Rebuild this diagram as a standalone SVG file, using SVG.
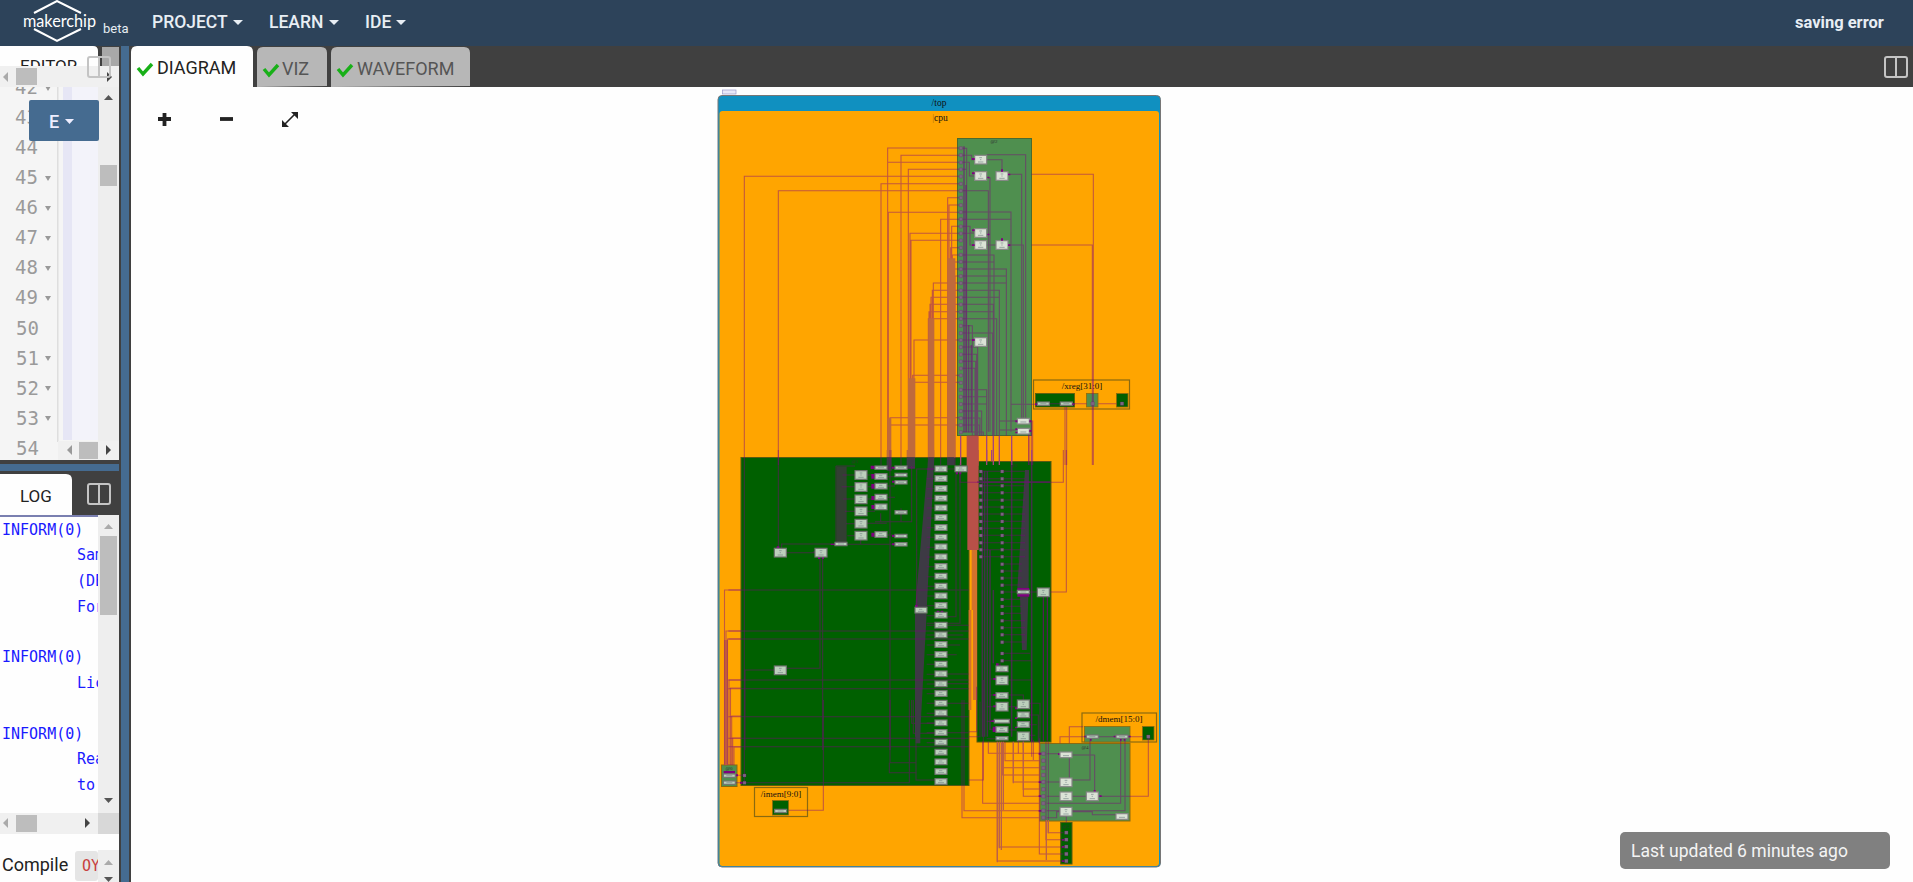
<svg xmlns="http://www.w3.org/2000/svg" width="1913" height="882" viewBox="0 0 1913 882">
<style>
text{font-family:Roboto,"Liberation Sans",sans-serif}
.ln{font-family:"DejaVu Sans Mono",monospace;font-size:19px;fill:#9a9a9a}
.log{font-family:"DejaVu Sans Mono",monospace;font-size:15px;fill:#1a1aff}
.nav{font-size:17.5px;font-weight:500;fill:#e8eef4}
.lab{font-family:"Liberation Serif",serif;font-size:9px;fill:#111;text-anchor:middle}
.tiny{font-family:"Liberation Serif",serif;font-size:5px;fill:#333;text-anchor:middle}
.w{fill:none;stroke:#800080;stroke-opacity:.48;stroke-width:3.2}
.wa{fill:none;stroke:#800080;stroke-opacity:.45;stroke-width:1.1}
.wt{fill:none;stroke:#70107a;stroke-opacity:.6;stroke-width:4.5}
.wr{fill:none;stroke:#a5457a;stroke-width:4}
.ws{fill:none;stroke:#bb6048;stroke-width:4}
.sc{fill:#f0f0f0}.th{fill:#bdbdbd}
.pt{fill:#7a6a80;stroke:#800080;stroke-opacity:.5;stroke-width:1.5}
.cl{fill:#bccfbc;stroke:#727272;stroke-width:3.5}
.cw{fill:#dbe3d6;stroke:#868686;stroke-width:3.5}
.mark{fill:none;stroke:#788;stroke-width:2}
.tip{fill:#800080}
.band{fill:#bf6a3c}
.split{fill:none;stroke:#c4c4c4;stroke-width:2}
</style>
<defs>
<g id="big"><rect class="cl" x="0" y="0" width="36" height="26"/><path class="mark" d="M14 7h8M16 13h4M10 20h16"/></g>
<g id="mid"><rect class="cl" x="0" y="0" width="36" height="17"/><path class="mark" d="M12 6h10M9 12h18"/></g>
<g id="thin"><rect class="cl" x="0" y="0" width="36" height="10"/><path class="mark" d="M9 5h18"/></g>
<g id="bigw"><rect class="cw" x="0" y="0" width="36" height="26"/><path class="mark" d="M14 7h8M16 13h4M10 20h16"/></g>
<g id="midw"><rect class="cw" x="0" y="0" width="36" height="17"/><path class="mark" d="M9 11h18"/></g>
<clipPath id="edClip"><rect x="0" y="87" width="57" height="373"/></clipPath>
<clipPath id="logClip"><rect x="0" y="516" width="98" height="296"/></clipPath>
<clipPath id="codeClip"><rect x="75" y="851" width="23" height="30"/></clipPath>
<clipPath id="editClip"><rect x="0" y="46" width="98" height="21"/></clipPath>
</defs>

<rect width="1913" height="882" fill="#fefefe"/>

<g id="chrome">
<rect width="1913" height="46" fill="#2d435a"/>
<rect y="46" width="1913" height="41" fill="#404040"/>
<g id="logo">
<path d="M34 13 57 1 81 13M34 29 57 41 81 29" fill="none" stroke="#fff" stroke-width="2"/>
<text x="23" y="27" font-size="17" fill="#fff" style="font-family:Lato,sans-serif" textLength="73" lengthAdjust="spacingAndGlyphs">makerchip</text>
<text x="103" y="33" font-size="13" fill="#e8eef4">beta</text>
</g>
<text class="nav" x="152" y="28">PROJECT</text><path d="M233 20h10l-5 5z" fill="#e8eef4"/>
<text class="nav" x="269" y="28">LEARN</text><path d="M329 20h10l-5 5z" fill="#e8eef4"/>
<text class="nav" x="365" y="28">IDE</text><path d="M396 20h10l-5 5z" fill="#e8eef4"/>
<text x="1795" y="28" font-size="16.500" font-weight="700" fill="#e8eef4">saving error</text>
<path d="M131 87V52q0-6 6-6h110q6 0 6 6v35z" fill="#fefefe"/>
<path d="M257 87V53q0-6 6-6h58q6 0 6 6v33z" fill="#b7b7b7"/>
<path d="M331 87V53q0-6 6-6h127q6 0 6 6v33z" fill="#b7b7b7"/>
<path d="M138 68l5 6 9-10" fill="none" stroke="#18b018" stroke-width="3.400"/>
<path d="M264 69l5 6 9-10" fill="none" stroke="#18b018" stroke-width="3.400"/>
<path d="M338 69l5 6 9-10" fill="none" stroke="#18b018" stroke-width="3.400"/>
<text x="157" y="74" font-size="18" fill="#222">DIAGRAM</text>
<text x="282" y="75" font-size="18" fill="#555">VIZ</text>
<text x="357" y="75" font-size="18" fill="#555">WAVEFORM</text>
<rect class="split" x="1885" y="57" width="22" height="20" rx="2"/><path class="split" d="M1896 57v20"/>
<path d="M158 119h13M164.500 113v13" stroke="#222" stroke-width="3.800" fill="none"/>
<path d="M220 119h13" stroke="#222" stroke-width="3.800" fill="none"/>
<path d="M285 124l10-10" stroke="#222" stroke-width="1.600" fill="none"/><path d="M291 112h7v7zM282 120v7h7z" fill="#222"/>
</g>

<g id="editor-pane">
<rect x="0" y="87" width="119" height="373" fill="#f5f5f5"/>
<rect x="57" y="87" width="1.500" height="355" fill="#dedede"/>
<rect x="63" y="87" width="35" height="353" fill="#f3f3fa"/>
<rect x="63" y="87" width="9" height="353" fill="#e6e6f5"/>
<rect x="98" y="87" width="21" height="355" fill="#eeeeee"/>
<g clip-path="url(#edClip)">
<text class="ln" x="15" y="94">42</text><text class="ln" x="15" y="124">43</text><text class="ln" x="15" y="154">44</text><text class="ln" x="15" y="184">45</text><text class="ln" x="15" y="214">46</text><text class="ln" x="15" y="244">47</text><text class="ln" x="15" y="274">48</text><text class="ln" x="15" y="304">49</text><text class="ln" x="16" y="335">50</text><text class="ln" x="16" y="365">51</text><text class="ln" x="16" y="395">52</text><text class="ln" x="16" y="425">53</text><text class="ln" x="16" y="455">54</text>
</g>
<path d="M45 176h6l-3 5zM45 206h6l-3 5zM45 236h6l-3 5zM45 266h6l-3 5zM45 296h6l-3 5zM45 356h6l-3 5zM45 386h6l-3 5zM45 416h6l-3 5zM45 86h6l-3 5z" fill="#999"/>
<rect x="100" y="165" width="17" height="21" class="th"/>
<path d="M104 100h9l-4.500-5z" fill="#555"/>
<rect x="58" y="441" width="61" height="19" fill="#f0f0f0"/>
<rect x="79" y="442" width="19" height="17" class="th"/>
<path d="M72 445v10l-5-5z" fill="#999"/><path d="M106 445v10l5-5z" fill="#444"/>
<path d="M0 46h93q5 0 5 5v16H0z" fill="#fefefe"/><rect x="102" y="47" width="17" height="19" fill="#a8a8a8"/>
<text x="20" y="72" font-size="17" fill="#222" clip-path="url(#editClip)">EDITOR</text>
<rect y="66" width="119" height="21" fill="#f0f0f0"/>
<rect x="16" y="68" width="21" height="17" class="th"/>
<path d="M8 72v10l-5-5z" fill="#aaa"/><path d="M107 72v10l5-5z" fill="#444"/>
<rect class="split" x="88" y="57" width="22" height="20" rx="2"/><path class="split" d="M99 57v20"/>
<rect x="29" y="100" width="70" height="41" rx="2" fill="#456b90"/>
<text x="49" y="128" font-size="18" font-weight="500" fill="#eef">E</text><path d="M65 119h9l-4.500 5z" fill="#eef"/>
</g>

<g id="log-pane">
<rect x="119" y="46" width="2" height="836" fill="#404040"/>
<rect x="121" y="46" width="8" height="836" fill="#456b90"/>
<rect x="129" y="87" width="2" height="795" fill="#404040"/>
<rect y="460" width="119" height="4" fill="#404040"/>
<rect y="464" width="119" height="7" fill="#456b90"/>
<rect y="471" width="119" height="44" fill="#404040"/>
<path d="M0 474h66q6 0 6 6v35H0z" fill="#fefefe"/>
<text x="20" y="502" font-size="17" fill="#222">LOG</text>
<rect class="split" x="88" y="484" width="22" height="20" rx="2"/><path class="split" d="M99 484v20"/>
<rect y="515" width="119" height="367" fill="#fefefe"/>
<rect y="515" width="98" height="2" fill="#7a7fb0"/>
<g clip-path="url(#logClip)">
<text class="log" x="2" y="535">INFORM(0)</text><text class="log" x="77" y="560">Sam</text><text class="log" x="77" y="586">(DE</text><text class="log" x="77" y="612">For</text>
<text class="log" x="2" y="662">INFORM(0)</text><text class="log" x="77" y="688">Lic</text>
<text class="log" x="2" y="739">INFORM(0)</text><text class="log" x="77" y="764">Rea</text><text class="log" x="77" y="790">to</text>
</g>
<rect x="98" y="515" width="21" height="298" fill="#eeeeee"/>
<rect x="100" y="536" width="17" height="79" class="th"/>
<path d="M104 529h9l-4.500-5z" fill="#aaa"/><path d="M104 798h9l-4.500 5z" fill="#555"/>
<rect y="813" width="98" height="21" fill="#f0f0f0"/>
<rect x="16" y="815" width="21" height="17" class="th"/>
<rect x="98" y="813" width="21" height="21" fill="#d8d8d8"/>
<path d="M8 818v10l-5-5z" fill="#aaa"/><path d="M85 818v10l5-5z" fill="#444"/>
<text x="2" y="871" font-size="18" fill="#222">Compile</text>
<rect x="75" y="851" width="23" height="30" rx="3" fill="#e5e5e5"/>
<text x="82" y="871" font-size="15" fill="#c84040" style="font-family:'DejaVu Sans Mono',monospace" clip-path="url(#codeClip)">OY</text>
<rect x="98" y="850" width="21" height="32" fill="#eeeeee"/>
<path d="M104 865h9l-4.500-5z" fill="#aaa"/><path d="M104 877h9l-4.500 5z" fill="#555"/>
</g>

<g id="toast"><rect x="1620" y="832" width="270" height="37" rx="5" fill="#808080"/>
<text x="1631" y="857" font-size="17.500" fill="#f4f4f4">Last updated 6 minutes ago</text></g>

<rect x="722.500" y="90" width="13.500" height="4" fill="#e8e8f8" stroke="#9a9acc" stroke-width=".7"/>

<g id="top"><rect x="718" y="95.500" width="442.500" height="771.500" rx="4" fill="#1090c0" stroke="#777" stroke-width="1"/><text class="lab" x="939" y="106" style="font-size:9.500px">/top</text></g>
<g id="cpu"><rect x="719.500" y="111" width="439.500" height="755" rx="3" fill="#ffa500"/><text class="lab" x="940" y="121" style="font-size:9.500px"><tspan fill="#b07010">|</tspan>cpu</text></g>

<g id="block-alignment"><rect x="957.500" y="138.500" width="74" height="297" fill="#4f8f4f" stroke="#4a6a30" stroke-width="1"/><text class="tiny" x="994" y="143">@2</text></g>
<g id="block-decode"><rect x="741" y="457.500" width="228" height="328" fill="#006000" stroke="#5a5a10" stroke-width="1"/><text class="tiny" x="855" y="463">@1</text></g>
<g id="block-execute"><rect x="977" y="461.500" width="74" height="280.500" fill="#006000" stroke="#5a5a10" stroke-width="1"/><text class="tiny" x="1014" y="467">@1</text></g>
<g id="block-memory"><rect x="1040" y="743.500" width="90" height="77.500" fill="#4f8f4f" stroke="#8a6a10" stroke-width="1"/><text class="tiny" x="1085" y="749">@4</text></g>
<g id="block-regs"><rect x="1060.700" y="822.500" width="11.300" height="41.500" fill="#006000" stroke="#5a5a10" stroke-width="1"/><text class="tiny" x="1066" y="828">@3</text></g>
<g id="block-pc"><rect x="721.500" y="765" width="15.500" height="21.500" fill="#4f8f4f" stroke="#8a6a10" stroke-width="1"/><text class="tiny" x="729" y="770">@0</text></g>
<g id="xreg"><rect x="1033.500" y="380" width="96" height="29" fill="#ffa500" stroke="#8a6a10" stroke-width="1.200"/><text class="lab" x="1082" y="388.500">/xreg[31:0]</text>
<rect x="1035.500" y="393.500" width="39" height="13.500" fill="#006000" stroke="#5a5a10" stroke-width=".8"/><rect x="1086.500" y="393.500" width="11.500" height="13.500" fill="#4f8f4f" stroke="#8a6a10" stroke-width=".8"/><rect x="1116.500" y="393.500" width="11.500" height="13.500" fill="#006000" stroke="#8a6a10" stroke-width=".8"/></g>
<g id="dmem"><rect x="1082" y="713" width="74.500" height="29" fill="#ffa500" stroke="#8a6a10" stroke-width="1.200"/><text class="lab" x="1119" y="721.500">/dmem[15:0]</text>
<rect x="1084.500" y="726.500" width="45.500" height="15.500" fill="#4f8f4f" stroke="#8a6a10" stroke-width=".8"/><rect x="1142.500" y="726.500" width="11.500" height="13.500" fill="#006000" stroke="#8a6a10" stroke-width=".8"/></g>
<g id="imem"><rect x="754.500" y="787.500" width="53" height="29" fill="#ffa500" stroke="#8a6a10" stroke-width="1.200"/><text class="lab" x="781" y="796.500">/imem[9:0]</text>
<rect x="772.500" y="800.500" width="16" height="14.500" fill="#006000" stroke="#8a6a10" stroke-width=".8"/></g>

<g id="connectors">
<g transform="translate(710,85) scale(.33333)">
<path class="w" d="M747 189H533V1140M747 211H573V1140M747 232H533V1140M747 253H595V1140M747 274H103V2090M747 296H513V1140M747 317H205V1140M747 338H713V1140M747 360H717V1140M747 382H535V1140M747 403H692V1140M747 424H725V1140M747 445H600V1140M747 466H603V1140M747 488H722V1140M747 510H727V1140M747 531H730V1140M747 552H733V1140M747 573H735V1140M747 594H670V1140M747 616H667V1140M747 637H663V1140M747 658H660V1140M747 680H657V1140M747 701H655V1140M747 765H612V1140M747 871H608V1140M747 892H605V1140M747 998H540V1140M747 1020H537V1140"/>
<path class="band" d="M655 700h18v417h-18zM712 520h24v597h-24zM594 880h22v237h-22zM532 1000h12v117h-12z"/>
<path class="w" d="M964 268H1150V1140M964 480H1147V1140M964 1010V1140M957 1040V1140M1065 966V1140M1070 966V1140"/>
<path class="w" d="M830 224H876V258M830 209H947V1000M757 190H770V1040M757 211H785V224H794M757 232H778V273H794M757 253H770V278M834 278H840V1040M894 268H935V1000M757 317H835V1040M757 381H903V1040M757 403H903V1040M757 424H780V444H794M835 448H840V1040M757 445H780V480H794M894 480H940V1000M830 480H858M757 510H852V1052M757 531H852V1052M757 552H889V1052M757 573H889V1052M757 594H889V1052M757 616H868V1052M757 637H868V1052M757 658H850V1052M757 680H850V1052M757 701H860V1052M757 722H787V1052M757 744H848V1052M757 765H794M757 786H803V1052M757 808H800V1052M757 829H797V1052M757 850H795V1052M757 914H830V1052M757 935H830V1052M757 957H830V1052M757 978H815V1052M757 999H810V1052M757 1020H808V1052M757 1041H820V1052M868 1008H922M868 1035H922V1040M903 958H976M958 1008H968V1140M958 1038H956V1140"/>
<path d="M770 1052h36v90h-36z" fill="#b85048"/>
<path class="wr" d="M830 1052V1140M850 1052V1140M868 1052V1140M905 1052V1140M752 1052V1140"/>
<path d="M762 184V1042M768 300V1042M776 720V1042M784 780V1042" class="wt"/>
<path class="w" d="M1092 956H1130M1165 956H1219M1018 956H1051"/>
</g>
<g transform="translate(730,450) scale(.33333)">
<path d="M470 0h15v22h-15zM530 0h25v22h-25zM595 0h18v22h-18zM652 0h20v22h-20z" class="band"/>
<path d="M712 0h34v300h-34z" fill="#b85048"/>
<path class="wr" d="M845 0V34M905 0V34M770 0V34M785 0V34"/>
<path d="M470 22h15v40h-15zM530 22h25v34h-25zM595 22h18L590 480H555zM652 22h20v24h-20z" fill="#3d3a44"/>
<path d="M555 490h35L570 860H555z" fill="#3d3a44"/>
<path d="M320 50h30v230h-30z" fill="#333f33"/>
<path d="M885 60h12L896 415H862zM870 440h25L890 600H876z" fill="#3d3a44"/>
<path d="M725 300h16v180h-16zM729 480h12v270h-12zM716 480h8v300h-8z" fill="#d2722c"/>
<path class="w" d="M-5 420H716M-5 543H716M-5 567H716M-5 690H716M-5 716H716M-5 800H716M-5 865H716M-5 890H716M145 0V295M480 0V900M318 48V283M318 48H375M375 75H338M375 110H335M375 147H340M375 184H345M375 221H348M375 257H352M411 75H435M411 110H435M411 147H435M411 184H435M411 220H470M392 270V283M351 283H495M291 305H250M170 308H255M270 320V655H170M278 320V900M133 660H45V900M153 282H315M155 295V282M471 53H495M471 80H495M471 108H495M471 142H495M435 215H545V48M531 53H555M470 255H495M452 190V215H495M513 175V215M612 57H560V470M678 66V500H640M690 66V520H590M650 57H675"/>
<path class="w" d="M590 57h25M590 86h25M590 116h25M590 145h25M590 174h25M590 204h25M590 233h25M590 262h25M590 292h25M590 321h25M590 350h25M590 380h25M590 409h25M590 438h25M590 467h25M590 497h25M590 526h25M590 555h25M590 585h25M590 614h25M590 643h25M590 673h25M590 702h25M590 731h25M590 760h25M590 790h25M590 819h25M590 848h25M590 878h25"/>
<path class="w" d="M651 526H716M651 555H700M651 585H690M651 614H680M651 672H716M651 701H716M651 760H716M651 848H716"/>
<path class="tip" d="M422 47h12v10h-12zM424 72h10v14h-10zM424 102h10v14h-10zM424 138h10v12h-10zM424 165h10v12h-10zM424 248h10v12h-10zM486 50h8v6h-8zM486 92h8v6h-8zM486 255h8v6h-8zM486 280h8v6h-8zM302 281h13v4h-13zM140 289h8v6h-8zM264 321h6v6h-6zM276 321h6v6h-6zM555 465h8v7h-8zM620 482h8v6h-8zM632 482h8v6h-8zM678 67h6v6h-6zM688 67h6v6h-6z"/>
<path class="w" d="M757 64H810M757 86H810M757 107H810M757 128H810M757 150H810M757 171H810M757 192H810M757 214H810M757 235H810M757 256H810M757 278H810M757 299H810M757 320H810M820 64H885M820 86H885M820 107H885M820 128H885M820 150H885M820 171H885M820 192H885M820 214H885M820 235H885M820 256H885M820 278H885M820 299H885M820 320H885M820 342H875M820 363H875M820 384H875M820 405H870M820 426H862M820 448H875M820 469H875M820 490H875M820 512H885M820 533H885M820 554H885M820 576H885M820 610H900M820 632H905M898 426H922M940 440V875M952 440V875"/>
<path class="wt" d="M757 64V860M764 64V860M772 64V860M780 300V840M790 420V640M845 36V860M905 36V875M960 96H741"/>
<path class="w" d="M810 640V655M798 687H780M798 735H780M798 770H770M834 690H905V875M834 735H880V750M834 770H860M834 840H860M898 760H930V875M898 795H925V875M898 824H920M793 814H770M798 838H780M798 866H770M880 872V900M898 856H916"/>
<path class="tip" d="M862 414h36v7h-36zM862 432h36v8h-36zM798 640h8v8h-8zM790 684h8v6h-8zM790 732h8v6h-8zM790 766h8v6h-8zM788 830h10v16h-10zM784 811h8v5h-8zM855 772h7v6h-7zM855 802h7v5h-7zM855 830h7v5h-7z"/>
</g>
<g transform="translate(950,450) scale(.33333)">
<path class="w" d="M30 40V97H340V0M299 426H349V0M280 440V870M292 440V870"/>
</g>
<g transform="translate(960,700) scale(.33333)">
<path class="w" d="M240 160H85V125M240 182H135V125M240 203H130V125M240 225H128V125M240 246H160V125M240 267H190V125M240 289H190V125M240 310H68V125M240 332H12V0M240 353H6V0M310 398H265V125M310 419H258V125M310 441H118V125M310 462H238V125M310 483H112V125"/>
<path class="ws" d="M112 125V487M118 125V445M124 125V450M130 125V330M259 360V480M265 360V400M190 125V270M160 125V250"/>
</g>
<g transform="translate(950,680) scale(.33333)">
<path class="w" d="M56 155H80V20M56 170H90V65M56 300H100V0M250 180V240M268 175V190M205 175V220M245 175V230M330 190V170H409M358 190V140H400M420 170V300H367M445 170H498M534 170H578M595 170V349H448M367 349H409M434 224V336M367 225H434M358 294V234M512 175V370H290M525 175V392H290M367 395H427V404H498M349 427V408H330V382M290 221H330M290 306H330M290 349H330M290 392H330M290 413H320V395H330"/>
<path class="tip" d="M266 218h8v6h-8zM266 304h8v5h-8zM266 346h8v5h-8zM266 390h8v5h-8zM324 220h6v5h-6zM403 167h6v5h-6zM491 167h7v5h-7zM534 167h8v5h-8zM420 176h5v6h-5zM510 176h5v6h-5zM521 176h5v6h-5zM448 346h7v5h-7zM431 330h6v6h-6zM336 477h7v5h-7zM336 498h7v5h-7zM336 541h7v5h-7z"/>
</g>
<g transform="translate(710,700) scale(.33333)">
<path class="w" d="M340 0V331H236M76 226H100M76 248H100M108 248H598V0M108 226H93M540 0V188H618M538 188V218H620M605 0V70H674M610 0V100H674M618 0V240H674"/>
<path d="M617 0h14v130h-14z" fill="#3d3a44"/>
<path d="M41 213h34v7H41z" class="tip"/><path d="M76 223h8v6h-8zM90 245h8v6h-8z" class="tip"/>
</g>
<path class="band" d="M724 640h4v125h-4z" style="fill:#d97a25"/>
<path class="wa" d="M741 590H724.500V765M741 631H726V765M741 639H727.500V765M741 680H729V765M741 688H730.500V765M741 716H731.700V765M741 738H732.700V765M741 747H734V765"/>
</g>

<g id="nodes-upper" transform="translate(710,85) scale(.33333)">
<path class="pt" d="M748 185h9v9h-9zM748 206h9v9h-9zM748 228h9v9h-9zM748 249h9v9h-9zM748 270h9v9h-9zM748 292h9v9h-9zM748 313h9v9h-9zM748 334h9v9h-9zM748 356h9v9h-9zM748 377h9v9h-9zM748 398h9v9h-9zM748 420h9v9h-9zM748 441h9v9h-9zM748 462h9v9h-9zM748 484h9v9h-9zM748 505h9v9h-9zM748 526h9v9h-9zM748 548h9v9h-9zM748 569h9v9h-9zM748 590h9v9h-9zM748 612h9v9h-9zM748 633h9v9h-9zM748 654h9v9h-9zM748 676h9v9h-9zM748 697h9v9h-9zM748 718h9v9h-9zM748 740h9v9h-9zM748 761h9v9h-9zM748 782h9v9h-9zM748 804h9v9h-9zM748 825h9v9h-9zM748 846h9v9h-9zM748 867h9v9h-9zM748 889h9v9h-9zM748 910h9v9h-9zM748 931h9v9h-9zM748 953h9v9h-9zM748 974h9v9h-9zM748 995h9v9h-9zM748 1016h9v9h-9zM748 1037h9v9h-9z"/>
<use href="#bigw" x="794" y="211"/><use href="#bigw" x="794" y="260"/><use href="#bigw" x="858" y="260"/><use href="#bigw" x="794" y="431"/><use href="#bigw" x="794" y="467"/><use href="#bigw" x="858" y="467"/><use href="#bigw" x="794" y="758"/><use href="#midw" x="922" y="1000"/><use href="#midw" x="922" y="1030"/>
<use href="#thin" x="982" y="951"/><use href="#thin" x="1051" y="951"/>
<path class="pt" d="M1143 951h10v10h-10zM1231 951h10v10h-10z"/>
<path class="tip" d="M786 219h8v6h-8zM786 262h8v6h-8zM832 275h6v5h-6zM873 253h6v7h-6zM894 266h7v5h-7zM786 433h8v6h-8zM832 446h6v5h-6zM786 478h8v5h-8zM873 460h6v7h-6zM894 478h7v5h-7zM786 762h8v6h-8zM916 1006h6v6h-6zM958 1006h6v6h-6zM916 1030h6v5h-6zM916 1040h6v5h-6zM958 1035h6v6h-6zM975 955h6v6h-6zM1087 955h6v6h-6z"/>
</g>

<g id="nodes-left" transform="translate(730,450) scale(.33333)">
<use href="#big" x="375" y="62"/><use href="#big" x="375" y="98"/><use href="#big" x="375" y="135"/><use href="#big" x="375" y="171"/><use href="#big" x="375" y="208"/><use href="#big" x="375" y="244"/>
<use href="#thin" x="435" y="48"/><use href="#mid" x="435" y="71"/><use href="#mid" x="435" y="100"/><use href="#mid" x="435" y="133"/><use href="#mid" x="435" y="162"/><use href="#mid" x="435" y="245"/>
<use href="#thin" x="495" y="48"/><use href="#thin" x="495" y="70"/><use href="#thin" x="495" y="92"/><use href="#thin" x="495" y="182"/><use href="#thin" x="495" y="253"/><use href="#thin" x="495" y="278"/><use href="#thin" x="315" y="277"/>
<use href="#big" x="133" y="295"/><use href="#big" x="255" y="295"/><use href="#big" x="133" y="648"/>
<use href="#mid" x="555" y="472"/><use href="#mid" x="675" y="48"/>
<use href="#mid" x="615" y="48"/><use href="#mid" x="615" y="77"/><use href="#mid" x="615" y="107"/><use href="#mid" x="615" y="136"/><use href="#mid" x="615" y="165"/><use href="#mid" x="615" y="194"/><use href="#mid" x="615" y="224"/><use href="#mid" x="615" y="253"/><use href="#mid" x="615" y="282"/><use href="#mid" x="615" y="312"/><use href="#mid" x="615" y="341"/><use href="#mid" x="615" y="370"/><use href="#mid" x="615" y="400"/><use href="#mid" x="615" y="429"/><use href="#mid" x="615" y="458"/><use href="#mid" x="615" y="487"/><use href="#mid" x="615" y="517"/><use href="#mid" x="615" y="546"/><use href="#mid" x="615" y="575"/><use href="#mid" x="615" y="605"/><use href="#mid" x="615" y="634"/><use href="#mid" x="615" y="663"/><use href="#mid" x="615" y="693"/><use href="#mid" x="615" y="722"/><use href="#mid" x="615" y="751"/><use href="#mid" x="615" y="780"/><use href="#mid" x="615" y="810"/><use href="#mid" x="615" y="839"/><use href="#mid" x="615" y="868"/><use href="#mid" x="615" y="898"/><use href="#mid" x="615" y="927"/><use href="#mid" x="615" y="956"/><use href="#mid" x="615" y="986"/>
</g>

<g id="nodes-right" transform="translate(730,450) scale(.33333)">
<path class="pt" d="M748 60h9v9h-9zM748 82h9v9h-9zM748 103h9v9h-9zM748 124h9v9h-9zM748 146h9v9h-9zM748 167h9v9h-9zM748 188h9v9h-9zM748 210h9v9h-9zM748 231h9v9h-9zM748 252h9v9h-9zM748 274h9v9h-9zM748 295h9v9h-9zM748 316h9v9h-9zM812 60h9v9h-9zM812 82h9v9h-9zM812 103h9v9h-9zM812 124h9v9h-9zM812 146h9v9h-9zM812 167h9v9h-9zM812 188h9v9h-9zM812 210h9v9h-9zM812 231h9v9h-9zM812 252h9v9h-9zM812 274h9v9h-9zM812 295h9v9h-9zM812 316h9v9h-9zM812 338h9v9h-9zM812 359h9v9h-9zM812 380h9v9h-9zM812 401h9v9h-9zM812 422h9v9h-9zM812 444h9v9h-9zM812 465h9v9h-9zM812 486h9v9h-9zM812 508h9v9h-9zM812 529h9v9h-9zM812 550h9v9h-9zM812 572h9v9h-9zM812 606h9v9h-9zM812 628h9v9h-9z"/>
<use href="#mid" x="798" y="648"/><use href="#big" x="798" y="678"/><use href="#mid" x="798" y="728"/><use href="#big" x="798" y="757"/><rect class="cl" x="793" y="808" width="45" height="11"/><use href="#mid" x="798" y="830"/><use href="#thin" x="798" y="860"/>
<use href="#big" x="862" y="750"/><use href="#mid" x="862" y="786"/><use href="#mid" x="862" y="815"/><use href="#big" x="862" y="846"/>
<use href="#thin" x="862" y="421"/><use href="#big" x="922" y="414"/>
</g>

<g id="nodes-lower" transform="translate(950,680) scale(.33333)">
<path class="pt" d="M275 216h10v10h-10zM275 237h10v10h-10zM275 259h10v10h-10zM275 280h10v10h-10zM275 301h10v10h-10zM275 323h10v10h-10zM275 344h10v10h-10zM275 365h10v10h-10zM275 387h10v10h-10zM275 408h10v10h-10zM344 453h10v10h-10zM344 474h10v10h-10zM344 495h10v10h-10zM344 517h10v10h-10zM344 538h10v10h-10zM590 165h10v10h-10z"/>
<use href="#midw" x="330" y="216"/><use href="#bigw" x="330" y="294"/><use href="#bigw" x="330" y="336"/><use href="#bigw" x="330" y="382"/><use href="#bigw" x="409" y="336"/><use href="#midw" x="498" y="401"/>
<use href="#thin" x="409" y="165"/><use href="#thin" x="498" y="165"/>
</g>

<g id="nodes-pc" transform="translate(710,700) scale(.33333)">
<use href="#thin" x="40" y="222"/><use href="#thin" x="40" y="243"/><use href="#thin" x="194" y="328"/>
<path class="pt" d="M99 222h9v9h-9zM99 244h9v9h-9z"/>
</g>
</svg>
